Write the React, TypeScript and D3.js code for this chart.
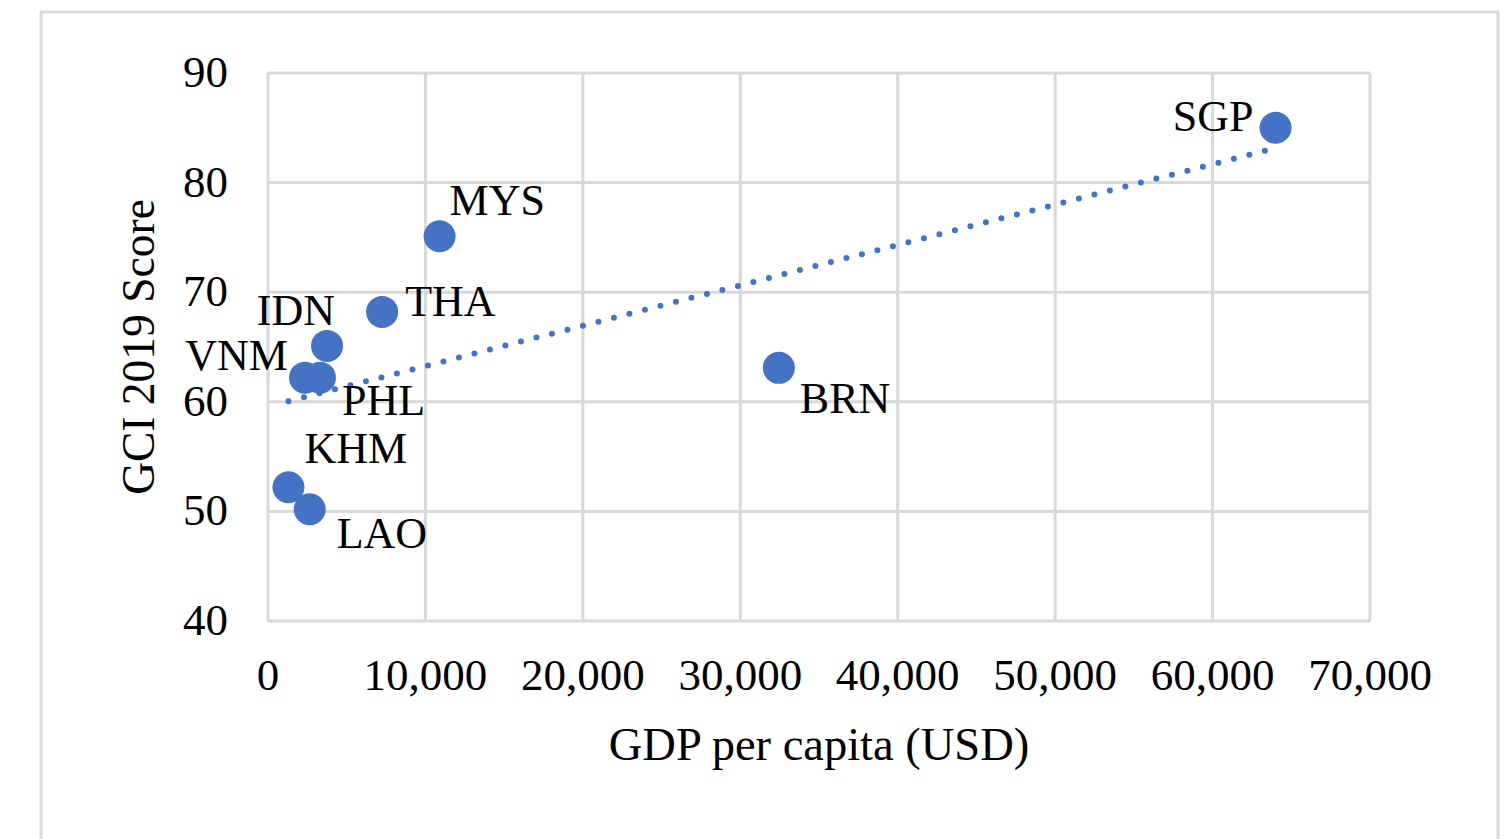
import React, { useEffect, useRef } from 'react';
import * as d3 from 'd3';

// GDP per capita (USD) and GCI 2019 score
const countries = ['SGP', 'MYS', 'THA', 'IDN', 'VNM', 'PHL', 'BRN', 'KHM', 'LAO'];
const gdp = [64000, 10900, 7250, 3750, 2350, 3300, 32450, 1300, 2650];
const gci = [85.0, 75.1, 68.2, 65.1, 62.2, 62.2, 63.1, 52.2, 50.2];
const xTicks = [0, 10000, 20000, 30000, 40000, 50000, 60000, 70000];
const yTicks = [40, 50, 60, 70, 80, 90];

// label offsets from the marker centre: [dx, dy, anchor]
const labelPos: Record<string, [number, number, string]> = {
    SGP: [-22, 3, 'end'],
    MYS: [10, -21, 'start'],
    THA: [23, 4, 'start'],
    IDN: [8, -21, 'end'],
    VNM: [-17, -8, 'end'],
    PHL: [22, 37, 'start'],
    BRN: [21, 45, 'start'],
    KHM: [16, -24, 'start'],
    LAO: [27, 39, 'start'],
};

export default () => {
    const width = 1506;
    const height = 839;
    const svgRef = useRef<SVGSVGElement>(null);

    useEffect(() => {
        const svg = d3.select(svgRef.current);
        svg.selectAll('*').remove();

        const font = '"Liberation Serif", "Times New Roman", serif';
        const grey = '#d9d9d9';
        const blue = '#4472C4';
        const margin = { top: 73, right: 136, bottom: 218, left: 268 };
        const innerWidth = width - margin.left - margin.right;
        const innerHeight = height - margin.top - margin.bottom;

        svg.attr('width', width).attr('height', height);

        // chart frame (runs off the bottom of the picture)
        svg.append('rect')
            .attr('x', 41).attr('y', 12)
            .attr('width', 1457).attr('height', 900)
            .attr('fill', '#fff')
            .attr('stroke', grey)
            .attr('stroke-width', 3);

        const g = svg.append('g')
            .attr('transform', `translate(${margin.left},${margin.top})`);

        const x = d3.scaleLinear().domain([0, 70000]).range([0, innerWidth]);
        const y = d3.scaleLinear().domain([40, 90]).range([innerHeight, 0]);

        // gridlines
        g.append('g')
            .selectAll('line')
            .data(xTicks)
            .join('line')
            .attr('x1', d => x(d)).attr('x2', d => x(d))
            .attr('y1', 0).attr('y2', innerHeight)
            .attr('stroke', grey).attr('stroke-width', 3);
        g.append('g')
            .selectAll('line')
            .data(yTicks)
            .join('line')
            .attr('x1', 0).attr('x2', innerWidth)
            .attr('y1', d => y(d)).attr('y2', d => y(d))
            .attr('stroke', grey).attr('stroke-width', 3);

        // tick labels
        const fmt = d3.format(',');
        g.append('g')
            .selectAll('text')
            .data(xTicks)
            .join('text')
            .attr('x', d => x(d))
            .attr('y', innerHeight + 69)
            .attr('text-anchor', 'middle')
            .attr('font-family', font)
            .attr('font-size', 45)
            .text(d => fmt(d));
        g.append('g')
            .selectAll('text')
            .data(yTicks)
            .join('text')
            .attr('x', -40)
            .attr('y', d => y(d) + 14)
            .attr('text-anchor', 'end')
            .attr('font-family', font)
            .attr('font-size', 45)
            .text(d => d);

        // axis titles
        g.append('text')
            .attr('x', innerWidth / 2)
            .attr('y', innerHeight + 139)
            .attr('text-anchor', 'middle')
            .attr('font-family', font)
            .attr('font-size', 46.5)
            .text('GDP per capita (USD)');
        g.append('text')
            .attr('transform', `translate(-114,${innerHeight / 2}) rotate(-90)`)
            .attr('text-anchor', 'middle')
            .attr('font-family', font)
            .attr('font-size', 45.5)
            .text('GCI 2019 Score');

        // linear trendline (least squares)
        const mx = d3.mean(gdp)!;
        const my = d3.mean(gci)!;
        const sxy = d3.sum(gdp, (v, i) => (v - mx) * (gci[i] - my));
        const sxx = d3.sum(gdp, v => (v - mx) ** 2);
        const slope = sxy / sxx;
        const icpt = my - slope * mx;
        const [x0, x1] = d3.extent(gdp) as [number, number];
        const line = d3.line<number>()
            .x(d => x(d))
            .y(d => y(icpt + slope * d));
        g.append('path')
            .datum([x0, x1])
            .attr('fill', 'none')
            .attr('stroke', blue)
            .attr('stroke-width', 6)
            .attr('stroke-linecap', 'round')
            .attr('stroke-dasharray', '0 16')
            .attr('d', line);

        // points
        const idx = d3.range(countries.length);
        g.append('g')
            .selectAll('circle')
            .data(idx)
            .join('circle')
            .attr('cx', i => x(gdp[i]))
            .attr('cy', i => y(gci[i]))
            .attr('r', 16)
            .attr('fill', blue);

        // labels
        g.append('g')
            .selectAll('text')
            .data(idx)
            .join('text')
            .attr('x', i => x(gdp[i]) + labelPos[countries[i]][0])
            .attr('y', i => y(gci[i]) + labelPos[countries[i]][1])
            .attr('text-anchor', i => labelPos[countries[i]][2])
            .attr('font-family', font)
            .attr('font-size', 44)
            .text(i => countries[i]);
    }, []);

    return <>
        <svg ref={svgRef} style={{ position: 'absolute', left: 0, top: 0, display: 'block' }}></svg>
    </>;
};
